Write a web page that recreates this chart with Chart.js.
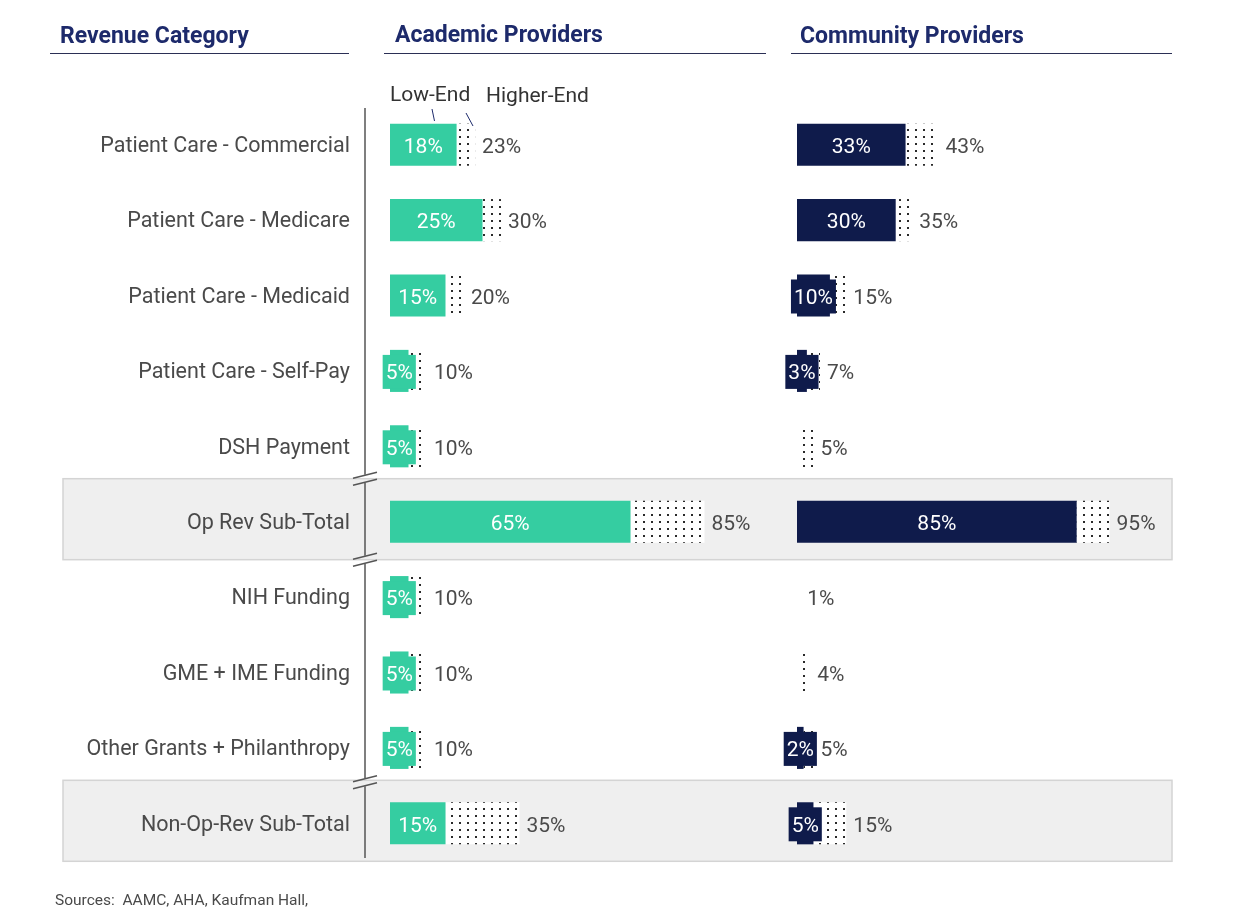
<!DOCTYPE html>
<html>
<head>
<meta charset="utf-8">
<title>Revenue Category</title>
<script src="https://cdn.jsdelivr.net/npm/chart.js@4.4.0/dist/chart.umd.min.js"></script>
<style>
html, body { margin: 0; padding: 0; background: #fff; }
#wrap { position: relative; width: 1240px; height: 919px; }
#wrap canvas { position: absolute; left: 0; top: 0; }
</style>
</head>
<body>
<div id="wrap">
  <canvas id="academicChart" width="1240" height="919"></canvas>
  <canvas id="communityChart" width="1240" height="919"></canvas>
</div>
<script>
// data
var categories = ['Patient Care - Commercial', 'Patient Care - Medicare', 'Patient Care - Medicaid',
  'Patient Care - Self-Pay', 'DSH Payment', 'Op Rev Sub-Total', 'NIH Funding',
  'GME + IME Funding', 'Other Grants + Philanthropy', 'Non-Op-Rev Sub-Total'];
var academicLow = [18, 25, 15, 5, 5, 65, 5, 5, 5, 15];
var academicHigh = [23, 30, 20, 10, 10, 85, 10, 10, 10, 35];
var communityLow = [33, 30, 10, 3, null, 85, null, null, 2, 5];
var communityHigh = [43, 35, 15, 7, 5, 95, 1, 4, 5, 15];
var subTotalRows = [5, 9];

var teal = '#35cda1';
var navy = '#0f1b4b';
var headNavy = '#1d2a6b';
var textGray = '#4a4a4a';

Chart.defaults.font.family = 'Roboto';
Chart.defaults.animation = false;

// dotted fill for the low -> higher-end range
function dotPattern() {
  var c = document.createElement('canvas');
  c.width = 8; c.height = 7;
  var g = c.getContext('2d');
  g.fillStyle = '#fff';
  g.fillRect(0, 0, 8, 7);
  g.fillStyle = '#2a2a2a';
  g.fillRect(3, 3, 2, 2);
  return g.createPattern(c, 'repeat');
}
var dots = dotPattern();

function rangeData(low, high) {
  return high.map(function (v, i) { return [low[i] === null ? 0 : low[i], v]; });
}

// labels: low value in the bar, higher-end value after the dots
function valueLabels(color, low, high) {
  return {
    id: 'valueLabels',
    afterDatasetsDraw: function (chart) {
      var ctx = chart.ctx, xs = chart.scales.x, ys = chart.scales.y;
      ctx.save();
      ctx.font = '21px Roboto';
      ctx.textBaseline = 'middle';
      for (var i = 0; i < categories.length; i++) {
        var y = ys.getPixelForValue(i);
        var x0 = xs.getPixelForValue(0);
        if (low[i] !== null) {
          var x1 = xs.getPixelForValue(low[i]);
          var txt = low[i] + '%';
          var w = ctx.measureText(txt).width;
          var cx = (x0 + x1) / 2;
          if (w + 6 > x1 - x0) {
            ctx.fillStyle = color;
            ctx.fillRect(cx - w / 2 - 3, y - 16, w + 6, 34);
          }
          ctx.fillStyle = '#fff';
          ctx.textAlign = 'center';
          ctx.fillText(txt, cx, y + 3);
        }
        var hx = xs.getPixelForValue(high[i]);
        ctx.fillStyle = textGray;
        ctx.textAlign = 'left';
        ctx.fillText(high[i] + '%', hx + 7, y + 3);
      }
      ctx.restore();
    }
  };
}

// bands, headers, axis with breaks, notes
var decor = {
  id: 'decor',
  beforeDraw: function (chart) {
    var ctx = chart.ctx, ys = chart.scales.y;
    ctx.save();
    subTotalRows.forEach(function (r) {
      var c = ys.getPixelForValue(r);
      ctx.fillStyle = '#efefef';
      ctx.fillRect(63, c - 43, 1109, 81);
      ctx.strokeStyle = '#d4d4d4';
      ctx.lineWidth = 1.5;
      ctx.strokeRect(63, c - 43, 1109, 81);
    });
    ctx.restore();
  },
  afterDraw: function (chart) {
    var ctx = chart.ctx, ys = chart.scales.y;
    ctx.save();
    // headers
    ctx.font = 'bold 23px Roboto';
    ctx.fillStyle = headNavy;
    ctx.textBaseline = 'middle';
    ctx.textAlign = 'left';
    ctx.fillText('Revenue Category', 60, 37);
    ctx.fillText('Academic Providers', 395, 36);
    ctx.fillText('Community Providers', 800, 37);
    ctx.strokeStyle = '#2b2f55';
    ctx.lineWidth = 1;
    [[50, 349], [384, 766], [791, 1172]].forEach(function (s) {
      ctx.beginPath();
      ctx.moveTo(s[0], 53.5);
      ctx.lineTo(s[1], 53.5);
      ctx.stroke();
    });
    // low / higher-end callouts
    ctx.font = '21px Roboto';
    ctx.fillStyle = '#333';
    ctx.fillText('Low-End', 390, 96);
    ctx.fillText('Higher-End', 486, 97);
    ctx.strokeStyle = headNavy;
    ctx.beginPath();
    ctx.moveTo(432, 109); ctx.lineTo(434.5, 121);
    ctx.moveTo(466, 113); ctx.lineTo(473, 126);
    ctx.stroke();
    // axis line with breaks
    var breaks = [ys.getPixelForValue(5) - 43, ys.getPixelForValue(5) + 38, ys.getPixelForValue(9) - 41];
    var top = 108, bottom = 858;
    ctx.strokeStyle = '#555';
    ctx.lineWidth = 1.5;
    ctx.beginPath();
    var from = top;
    breaks.forEach(function (b) {
      ctx.moveTo(365, from); ctx.lineTo(365, b - 4);
      from = b + 4;
    });
    ctx.moveTo(365, from); ctx.lineTo(365, bottom);
    ctx.stroke();
    breaks.forEach(function (b) {
      ctx.beginPath();
      ctx.moveTo(353, b - 0.5); ctx.lineTo(377, b - 6.5);
      ctx.moveTo(353, b + 6.5); ctx.lineTo(377, b + 0.5);
      ctx.stroke();
    });
    // sources
    ctx.font = '15.5px Roboto';
    ctx.fillStyle = textGray;
    ctx.fillText('Sources:  AAMC, AHA, Kaufman Hall,', 55, 901);
    ctx.restore();
  }
};

function barOptions(padding, showLabels) {
  var y = { display: false };
  if (showLabels) {
    y = {
      afterFit: function (s) { s.width = 390; },
      grid: { display: false },
      border: { display: false },
      ticks: { padding: 32, labelOffset: 2, color: textGray, font: { size: 21.5 } }
    };
  }
  return {
    indexAxis: 'y',
    responsive: false,
    layout: { padding: padding },
    plugins: { legend: { display: false }, tooltip: { enabled: false } },
    scales: {
      x: { min: 0, max: 100, display: false },
      y: y
    }
  };
}

// Academic chart
new Chart('academicChart', {
  type: 'bar',
  data: {
    labels: categories,
    datasets: [
      { data: academicLow, backgroundColor: teal, grouped: false, barPercentage: 0.558, categoryPercentage: 1 },
      { data: rangeData(academicLow, academicHigh), backgroundColor: dots, grouped: false, barPercentage: 0.558, categoryPercentage: 1 }
    ]
  },
  options: barOptions({ top: 107, bottom: 58, left: 0, right: 480 }, true),
  plugins: [decor, valueLabels(teal, academicLow, academicHigh)]
});

// Community chart
new Chart('communityChart', {
  type: 'bar',
  data: {
    labels: categories,
    datasets: [
      { data: communityLow, backgroundColor: navy, grouped: false, barPercentage: 0.558, categoryPercentage: 1 },
      { data: rangeData(communityLow, communityHigh), backgroundColor: dots, grouped: false, barPercentage: 0.558, categoryPercentage: 1 }
    ]
  },
  options: barOptions({ top: 107, bottom: 58, left: 797, right: 114 }, false),
  plugins: [valueLabels(navy, communityLow, communityHigh)]
});
</script>
</body>
</html>
